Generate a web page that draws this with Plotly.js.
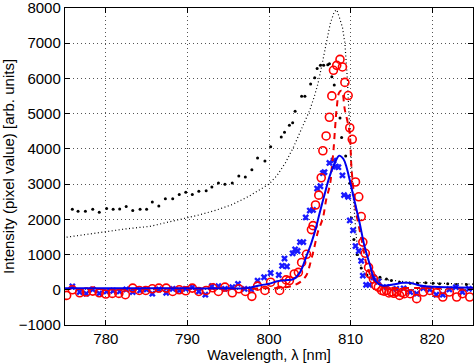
<!DOCTYPE html>
<html><head><meta charset="utf-8">
<script src="https://cdn.plot.ly/plotly-3.0.1.min.js"></script>
<style>html,body{margin:0;padding:0;background:#fff}#chart{width:474px;height:363px}</style>
</head><body><div id="chart"></div>
<script>
// Black dots (measured spectrum 1)
const dotsX = [775.9,776.6,777.5,778.4,779.2,780.1,780.9,781.7,782.5,783.3,784.2,785.0,785.7,786.5,787.3,788.2,789.0,789.8,790.6,791.4,792.3,793.0,793.8,794.6,795.5,796.3,797.1,797.9,798.6,799.5,800.2,801.5,801.9,802.5,802.9,803.2,804.0,804.4,805.1,805.6,805.9,806.3,806.7,807.2,807.4,807.7,808.0,808.7,808.9,809.4,809.9,810.1,810.4,810.8,811.3,812.0,812.8,813.6,814.4,815.0,816.0,817.3,818.2,819.2,820.1,820.9,821.9,823.0,824.2];
const dotsY = [2286,2230,2230,2286,2202,2305,2286,2296,2361,2249,2286,2286,2491,2379,2585,2585,2706,2771,2706,2799,2808,2920,3032,2995,3032,3228,3200,3405,3741,3657,4058,4338,4469,4674,4740,5066,5495,5495,5841,6018,6279,6372,6372,6391,6420,6048,5815,4880,4320,3800,3024,2035,1428,1000,620,420,380,355,308,261,215,187,187,200,187,168,168,148,148];
// Black dotted line
const dottedX = [775.2,777.5,780.1,782.5,785.4,787.5,789.9,791.5,793.5,795.5,797.5,799,800,801,802,803,804,805,805.5,806,806.5,807,807.5,808,808.3,808.6,809,809.3,809.6,809.8,810,810.3,810.7,811,811.5,812,813,815,817,820,823,825];
const dottedY = [1493,1570,1660,1730,1800,1910,2035,2128,2260,2420,2650,2850,3000,3250,3600,4050,4550,5100,5450,5850,6400,6950,7550,7900,7950,7750,7450,7000,6000,5000,3900,2700,1500,900,520,380,320,260,220,190,170,160];
// Red circles (measured spectrum 2)
const circX = [775.2,775.9,776.8,777.6,778.4,779.2,780.0,780.8,781.6,782.4,783.3,784.1,784.9,785.7,786.5,787.4,788.2,789.0,789.8,790.6,791.4,792.3,793.1,793.8,794.6,795.5,796.3,797.1,797.9,798.6,799.5,800.2,801.3,801.6,802.1,802.5,803.1,803.6,804.0,804.6,805.2,805.4,805.7,806.1,806.4,806.6,807.0,807.4,807.7,807.9,808.3,808.7,809.0,809.3,809.7,809.9,810.2,810.6,811.0,811.3,811.5,811.8,812.2,812.4,812.8,813.1,813.4,813.8,814.1,814.4,814.7,815.0,815.3,815.6,816.0,816.3,816.6,817.3,818.1,818.9,819.7,820.5,821.3,822.1,823.0,823.7,824.6];
const circY = [-159,0,-84,-65,-37,-84,-121,-103,-103,-140,47,-19,-19,28,47,47,-47,0,-28,47,-47,-19,56,-47,75,-84,28,-47,-187,103,-20,215,-20,168,280,261,448,495,775,1008,1708,1820,2407,2687,3181,3947,4367,4898,5505,6232,6372,6540,6326,5887,5514,4600,4273,3060,2640,2080,1353,1036,635,448,308,121,75,-20,-40,-20,-90,-65,-100,-65,-160,-80,-112,-112,-252,-65,-20,-84,-205,-65,-205,-112,-205];
// Red dashed line (fit 2)
const dashX = [775,780,785,790,795,799,801,802,803,804,804.6,805,805.5,806,806.6,807,807.5,807.7,807.9,808.1,808.3,808.6,808.9,809.3,809.6,809.9,810.1,810.4,810.7,811.1,811.5,812,812.7,813.6,815,818,820,825];
const dashY = [20,20,25,30,30,40,50,70,120,250,420,700,1150,1650,2035,2548,3016,3480,3948,4600,5160,5600,5650,5100,4800,4424,3480,2738,2175,1700,1250,680,308,120,60,50,40,30];
// Blue crosses (measured spectrum 3)
const crossX = [775.9,776.8,777.6,778.4,779.2,780.1,780.9,781.7,782.5,783.3,784.2,785.0,785.7,786.5,787.4,788.2,789.0,789.8,790.6,791.4,792.2,793.0,793.8,794.6,795.5,796.2,797.0,797.8,798.6,799.4,800.2,801.2,801.6,801.9,802.2,802.9,803.2,803.5,803.8,804.2,804.5,805.0,805.4,805.9,806.3,806.6,806.8,807.4,807.9,808.2,808.5,809.0,809.2,809.7,809.9,810.3,810.6,811.0,811.3,811.5,811.9,812.3,812.8,813.4,814.4,815.6,816.5,817.3,818.1,818.9,819.7,820.5,821.3,822.1,822.9,823.7,824.5];
const crossY = [93,-65,-112,9,-103,-47,-28,-47,9,-65,-19,9,-112,9,-84,28,-19,28,75,-47,-140,103,103,28,75,168,28,9,261,355,476,420,681,886,662,1036,1148,1101,1353,1353,2053,2249,2267,2874,2939,3312,3340,3601,3668,3499,3480,3248,2688,2640,1969,1689,1241,1101,821,401,140,140,355,233,75,28,40,-65,-112,47,9,-140,-140,9,75,-65,28];
// Blue solid line (fit 3)
const solidX = [775,780,785,790,795,797,798,799,800,801,802,803,803.8,804.6,805.2,805.8,806.2,806.8,807.4,808.1,808.6,809.1,809.5,809.9,810.3,810.7,811.1,811.7,812.4,813.0,813.9,815.2,816.4,817.3,818.5,820.1,822,825];
const solidY = [40,40,40,40,40,45,80,130,170,240,270,300,495,960,1335,1800,2175,2700,3200,3620,3808,3720,3480,3108,2700,2300,1904,1240,680,260,121,150,196,196,121,84,70,60];
const yTicks = [-1000,0,1000,2000,3000,4000,5000,6000,7000,8000];
const xTicks = [780,790,800,810,820];

const axisFont = {family: 'Liberation Sans, Arial, sans-serif', size: 15, color: '#000'};
const traces = [
  {x: dottedX, y: dottedY, mode: 'lines', line: {color: '#000', width: 1.2, dash: '1px,2.5px'}},
  {x: dotsX, y: dotsY, mode: 'markers', marker: {color: '#000', size: 3}},
  {x: crossX, y: crossY, mode: 'markers', marker: {color: '#1a1aff', symbol: 'x', size: 6}},
  {x: circX, y: circY, mode: 'markers', marker: {color: '#ff0000', symbol: 'circle-open', size: 8, line: {color: '#ff0000', width: 1.6}}},
  {x: dashX, y: dashY, mode: 'lines', line: {color: '#ee0000', width: 2, dash: '6px,5px', shape: 'spline'}},
  {x: solidX, y: solidY, mode: 'lines', line: {color: '#0000ee', width: 2, shape: 'spline'}}
];
const gridStyle = {showgrid: true, gridcolor: '#555', griddash: '1px,3px', gridwidth: 1,
  showline: true, linecolor: '#000', linewidth: 1.2, mirror: 'ticks', ticks: 'inside', ticklen: 5,
  tickcolor: '#000', zeroline: false, tickfont: axisFont, ticklabeloverflow: 'allow'};
const layout = {
  width: 474, height: 363, showlegend: false,
  margin: {l: 65, r: 1, t: 8, b: 38},
  paper_bgcolor: '#fff', plot_bgcolor: '#fff',
  xaxis: Object.assign({}, gridStyle, {range: [775, 825], tickvals: xTicks,
    title: {text: 'Wavelength, λ [nm]', font: {family: axisFont.family, size: 14.5, color: '#000'}, standoff: 3}}),
  yaxis: Object.assign({}, gridStyle, {range: [-1000, 8000], tickvals: yTicks,
    title: {text: 'Intensity (pixel value) [arb. units]', font: axisFont, standoff: 2}})
};
Plotly.newPlot('chart', traces, layout, {displayModeBar: false, staticPlot: true});
</script></body></html>
